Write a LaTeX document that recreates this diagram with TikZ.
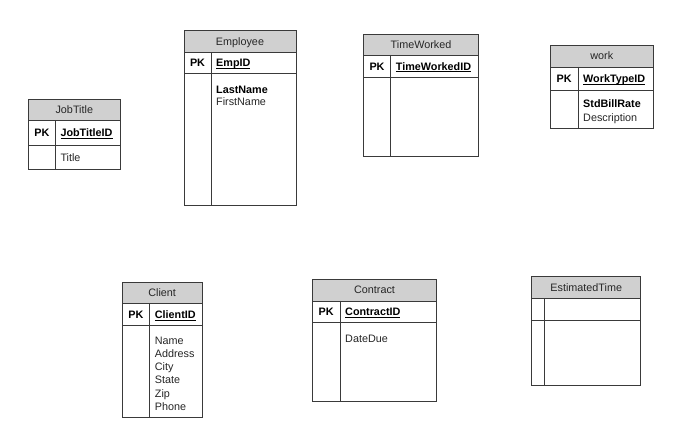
\documentclass[tikz,border=0pt]{standalone}
\usepackage{fontspec}
\setmainfont{Liberation Sans}
\definecolor{hdrgray}{HTML}{D0D0D0}
\definecolor{linegray}{HTML}{3A3A3A}
\definecolor{txtgray}{HTML}{262626}
\newcommand{\erdtable}[9]{%
  \fill[hdrgray] (#2,#5) rectangle (#3,#6);
  \draw[tline] (#2,#5) rectangle (#3,#8);
  \draw[tline] (#2,#6) -- (#3,#6);
  \draw[tline] (#2,#7) -- (#3,#7);
  \draw[tline] (#4,#6) -- (#4,#8);
  \node[titletext] (#1-title) at ({(#2+#3)/2},{(#5+#6)/2+3.9}) {#9};
  \coordinate (#1-pk) at ({(#2+#4)/2},{(#6+#7)/2+3.9});
  \coordinate (#1-key) at ({#4+5},{(#6+#7)/2+3.9});
}
\newcommand{\keyul}[1]{\underline{\smash{#1}}}
\begin{document}
\begin{tikzpicture}[x=1pt,y=-1pt,
  tline/.style={draw=linegray,line width=0.9pt},
  titletext/.style={inner sep=0pt,anchor=base,text=txtgray,font=\fontsize{10.8}{12.6}\selectfont},
  pktext/.style={inner sep=0pt,anchor=base,font=\bfseries\fontsize{10.8}{12.6}\selectfont},
  keytext/.style={inner sep=0pt,anchor=base west,font=\bfseries\fontsize{10.8}{12.6}\selectfont},
  bodytext/.style={inner sep=0pt,anchor=base west,align=left,text=txtgray,font=\fontsize{10.8}{13.2}\selectfont},
  boldbody/.style={inner sep=0pt,anchor=base west,align=left,font=\bfseries\fontsize{10.8}{13.2}\selectfont}]
\useasboundingbox[fill=white] (0,0) rectangle (690,435);

% JobTitle
\erdtable{job}{28.3}{120.3}{55.3}{99}{120.7}{145.3}{169}{JobTitle}
\node[pktext] (job-pkl) at (job-pk) {PK};
\node[keytext] (job-id) at (job-key) {\keyul{JobTitleID}};
\node[bodytext] (job-attr) at (60.3,161.5) {Title};

% Employee
\erdtable{emp}{184}{296}{211}{30.7}{52.7}{73.3}{205.3}{Employee}
\node[pktext] (emp-pkl) at (emp-pk) {PK};
\node[keytext] (emp-id) at (emp-key) {\keyul{EmpID}};
\node[boldbody] (emp-a1) at (216,93.1) {LastName};
\node[bodytext] (emp-a2) at (216,105.9) {FirstName};

% TimeWorked
\erdtable{tw}{363.3}{478.7}{390.7}{34}{55}{77.3}{156}{TimeWorked}
\node[pktext] (tw-pkl) at (tw-pk) {PK};
\node[keytext] (tw-id) at (tw-key) {\keyul{TimeWorkedID}};

% work
\erdtable{wk}{550.3}{653.3}{578}{45}{67}{90}{128.3}{work}
\node[pktext] (wk-pkl) at (wk-pk) {PK};
\node[keytext] (wk-id) at (wk-key) {\keyul{WorkTypeID}};
\node[boldbody] (wk-a1) at (583,107.8) {StdBillRate};
\node[bodytext] (wk-a2) at (583,121.1) {Description};

% Client
\erdtable{cl}{122}{202.3}{149.7}{282}{303.7}{325.3}{417}{Client}
\node[pktext] (cl-pkl) at (cl-pk) {PK};
\node[keytext] (cl-id) at (cl-key) {\keyul{ClientID}};
\node[bodytext,anchor=north west] (cl-attr) at (154.7,336.7) {Name\\Address\\City\\State\\Zip\\Phone};

% Contract
\erdtable{ct}{312.3}{436.7}{340}{279}{301}{322.3}{401}{Contract}
\node[pktext] (ct-pkl) at (ct-pk) {PK};
\node[keytext] (ct-id) at (ct-key) {\keyul{ContractID}};
\node[bodytext] (ct-attr) at (345,342.1) {DateDue};

% EstimatedTime
\erdtable{et}{531.7}{640.7}{544.3}{276.7}{298.3}{320.3}{385}{EstimatedTime}
\end{tikzpicture}
\end{document}
